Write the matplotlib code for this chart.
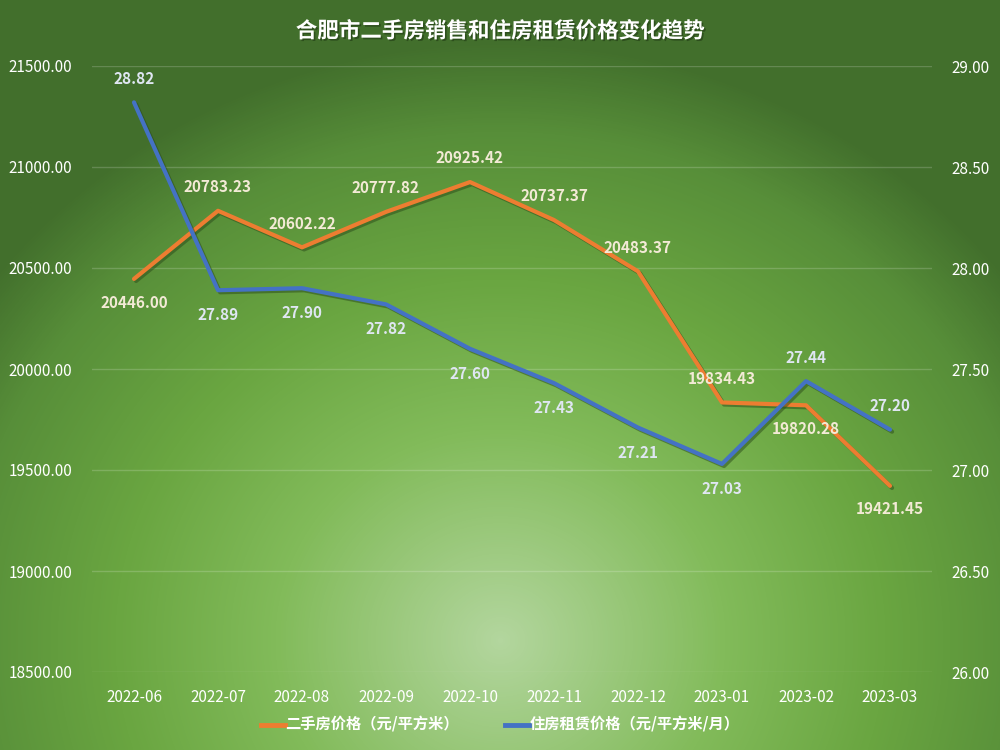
import numpy as np
import matplotlib
matplotlib.use("Agg")
import matplotlib.pyplot as plt
from matplotlib.colors import LinearSegmentedColormap
import matplotlib.patheffects as pe
from matplotlib.lines import Line2D

plt.rcParams['font.family'] = ['Noto Sans CJK SC', 'DejaVu Sans']

months = ["2022-06", "2022-07", "2022-08", "2022-09", "2022-10", "2022-11",
          "2022-12", "2023-01", "2023-02", "2023-03"]
sale_price = [20446.00, 20783.23, 20602.22, 20777.82, 20925.42, 20737.37,
              20483.37, 19834.43, 19820.28, 19421.45]
rent_price = [28.82, 27.89, 27.90, 27.82, 27.60, 27.43, 27.21, 27.03, 27.44, 27.20]
sale_label_pos = ["below", "above", "above", "above", "above", "above",
                  "above", "above", "below", "below"]
rent_label_pos = ["above", "below", "below", "below", "below", "below",
                  "below", "below", "above", "above"]
title = "合肥市二手房销售和住房租赁价格变化趋势"
sale_name = "二手房价格（元/平方米）"
rent_name = "住房租赁价格（元/平方米/月）"

W, H = 1000, 750
fig = plt.figure(figsize=(10, 7.5), dpi=100)

# radial gradient background
bg = fig.add_axes([0, 0, 1, 1])
yy, xx = np.mgrid[0:H, 0:W]
cx, cy = 500, 640
d = np.sqrt(((xx - cx) / 640.0) ** 2 + ((yy - cy) / 600.0) ** 2)
cmap = LinearSegmentedColormap.from_list(
    "g", [(0, "#b3d69e"), (0.35, "#82bb5a"), (0.6, "#6aa641"), (0.85, "#578e39"), (1.0, "#426f2c")])
bg.imshow(np.clip(d, 0, 1), cmap=cmap, vmin=0, vmax=1, aspect="auto", extent=[0, W, H, 0])
bg.set_axis_off()

ax = fig.add_axes([92 / W, 1 - 672 / H, 840 / W, 606 / H])
ax.patch.set_alpha(0)
ax2 = ax.twinx()
ax2.patch.set_alpha(0)

x = np.arange(len(months))
shadow = [pe.SimpleLineShadow(offset=(1.5, -1.5), shadow_color="#2a4a1a", alpha=0.5), pe.Normal()]
ax.plot(x, sale_price, color="#ed7d31", lw=3.0, solid_joinstyle="round", solid_capstyle="round",
        path_effects=shadow, zorder=3)
ax2.plot(x, rent_price, color="#4472c4", lw=3.0, solid_joinstyle="round", solid_capstyle="round",
         path_effects=shadow, zorder=3)

ax.set_xlim(-0.5, len(months) - 0.5)
ax.set_ylim(18500, 21500)
ax2.set_ylim(26, 29)
ax.set_yticks(np.arange(18500, 21501, 500))
ax2.set_yticks(np.arange(26, 29.01, 0.5))
ax.set_yticklabels([f"{v:.2f}" for v in np.arange(18500, 21501, 500)])
ax2.set_yticklabels([f"{v:.2f}" for v in np.arange(26, 29.01, 0.5)])
ax.set_xticks(x)
ax.set_xticklabels(months)

for a in (ax, ax2):
    for s in a.spines.values():
        s.set_visible(False)
    a.tick_params(length=0, colors="white", labelsize=11)
ax.tick_params(axis="x", pad=12)
ax.tick_params(axis="y", pad=14)
ax2.tick_params(axis="y", pad=14)
ax.grid(axis="y", color="#ffffff", alpha=0.18, lw=1)
ax.set_axisbelow(True)

for i, (v, p) in enumerate(zip(sale_price, sale_label_pos)):
    off = 17 if p == "above" else -17
    ax.annotate(f"{v:.2f}", (i, v), xytext=(0, off), textcoords="offset points",
                ha="center", va="center", color="#f3ead6", fontsize=11, fontweight="bold", zorder=5)
for i, (v, p) in enumerate(zip(rent_price, rent_label_pos)):
    off = 17 if p == "above" else -18
    ax2.annotate(f"{v:.2f}", (i, v), xytext=(0, off), textcoords="offset points",
                 ha="center", va="center", color="#dfe6f2", fontsize=11, fontweight="bold", zorder=5)

fig.text(0.5, 1 - 31 / H, title, ha="center", va="center", color="white", fontsize=15.5,
         fontweight="bold",
         path_effects=[pe.withSimplePatchShadow(offset=(1.2, -1.2), shadow_rgbFace="#203a14", alpha=0.6)])

handles = [Line2D([], [], color="#ed7d31", lw=3.5), Line2D([], [], color="#4472c4", lw=3.5)]
leg = fig.legend(handles, [sale_name, rent_name], loc="center", bbox_to_anchor=(0.5, 1 - 725 / H),
                 ncol=2, frameon=False, fontsize=11, handlelength=1.6, handletextpad=0.0,
                 columnspacing=3.0)
for t in leg.get_texts():
    t.set_color("white")
    t.set_fontweight("bold")

fig.savefig("out.png", dpi=100)
